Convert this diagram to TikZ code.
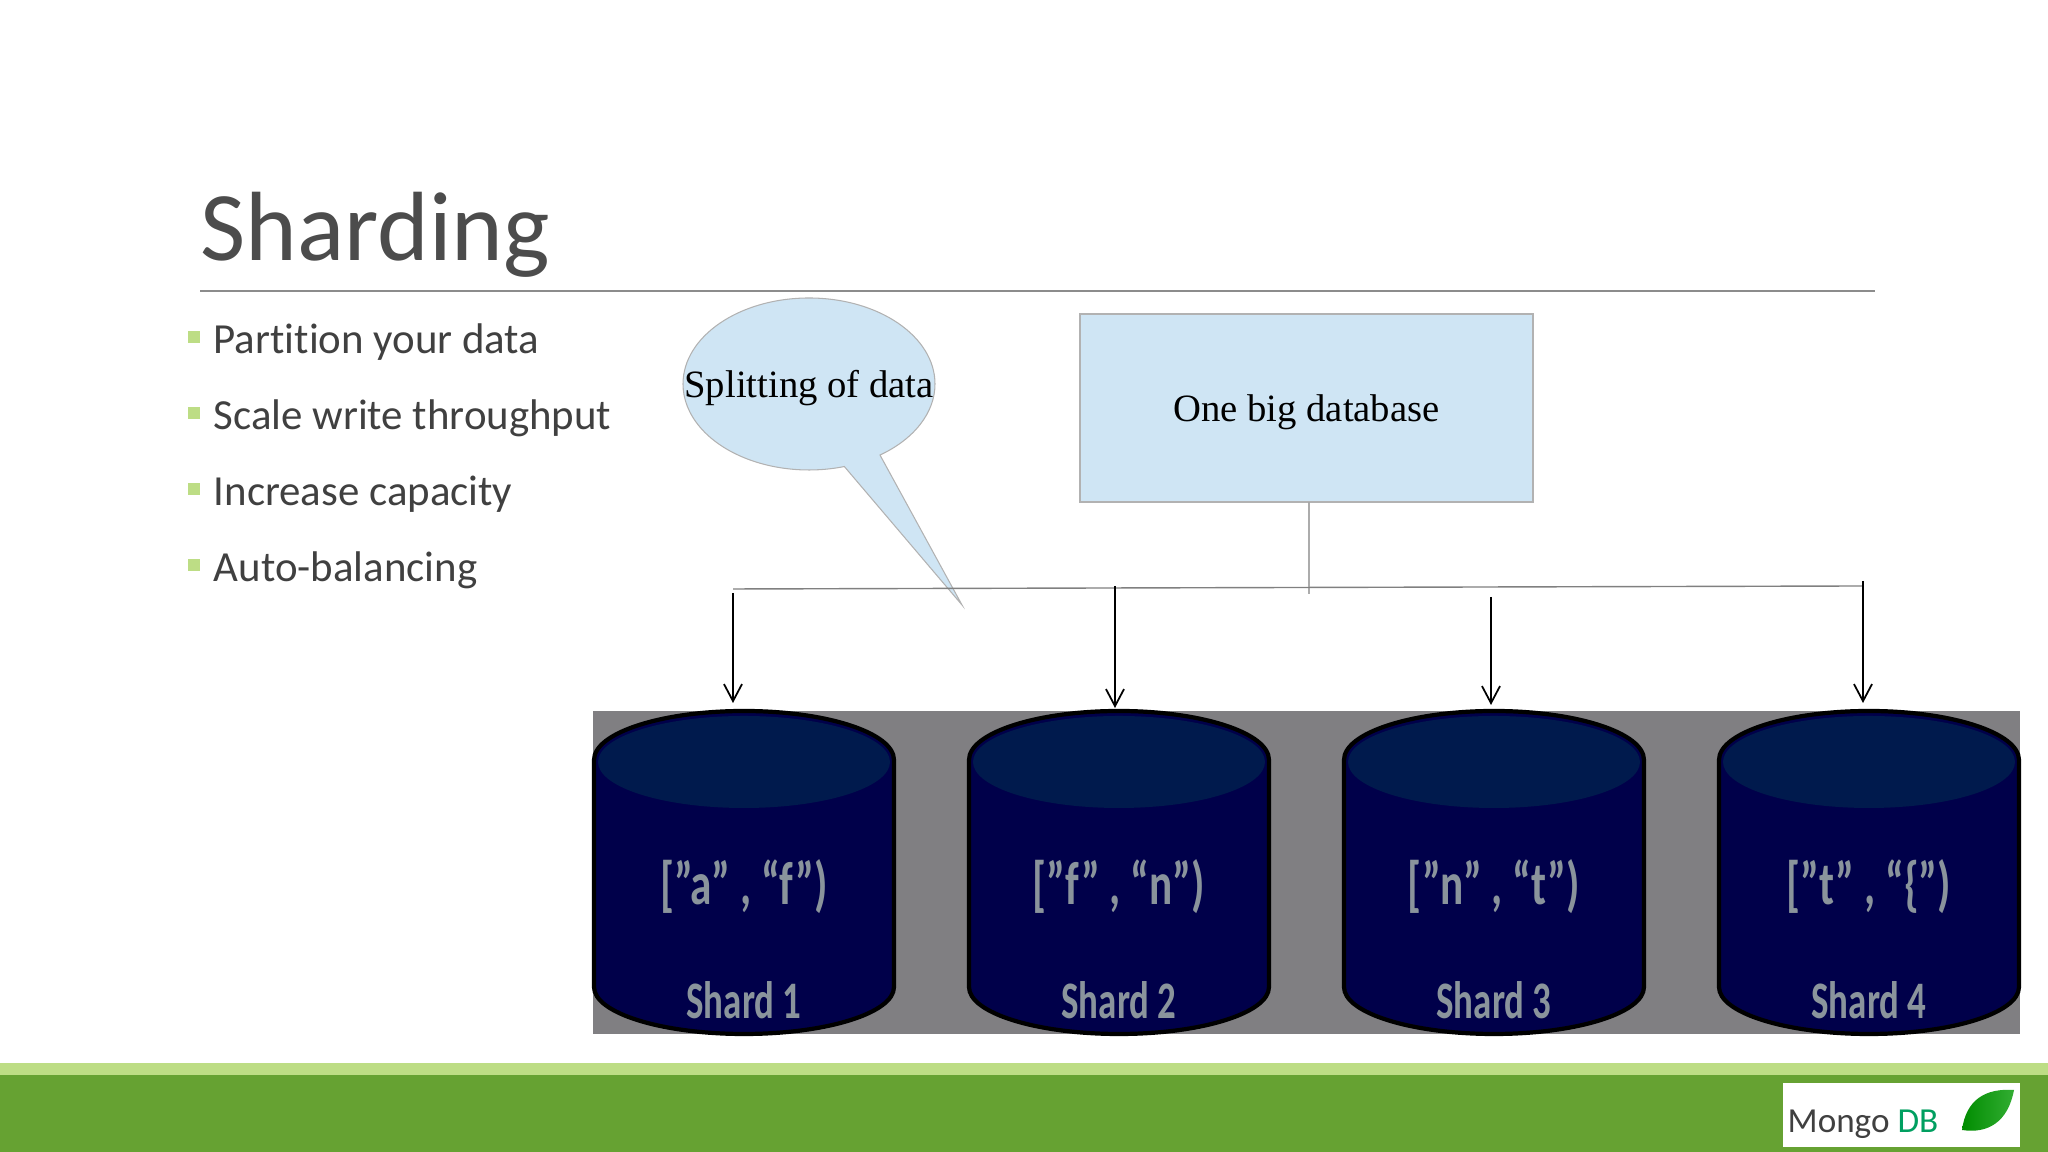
\documentclass[tikz,border=0pt]{standalone}
\usepackage{fontspec}
\setmainfont[Ligatures=NoCommon]{Carlito}
\newfontfamily\serifface{Liberation Serif}
\usetikzlibrary{shapes.callouts,arrows.meta}
\definecolor{slidegreen}{HTML}{66A232}
\definecolor{slidelime}{HTML}{BDDD85}
\definecolor{boxblue}{HTML}{CFE5F4}
\definecolor{shardbody}{HTML}{00004A}
\definecolor{shardtop}{HTML}{001A4D}
\definecolor{shardgray}{HTML}{807F82}
\definecolor{shardink}{HTML}{8A949C}
\begin{document}
\begin{tikzpicture}[
    >={Straight Barb[length=1.7mm,width=1.8mm]},
    bullettext/.style={anchor=base west, inner sep=0pt, text=black!75, font=\fontsize{12.2}{14}\selectfont},
    bulletmark/.style={fill=slidelime, inner sep=0pt, minimum size=0.12cm},
    blueshape/.style={draw=black!30, fill=boxblue, line width=0.3pt, text height=10pt, text depth=2.2pt, font=\serifface\fontsize{11}{13}\selectfont, text=black},
    busline/.style={draw=black!50, line width=0.4pt},
    shardtext/.style={text=shardink, inner sep=0pt, font=\bfseries\fontsize{15}{17}\selectfont}
]
    \useasboundingbox (0,0) rectangle (20.48,11.52);
    % title
    \node[anchor=base west, inner sep=0pt, text=black!70, font=\fontsize{28}{32}\selectfont] (title) at (2.0,8.91) {Sharding};
    \coordinate (ruleleft) at (2.0,8.61);
    \coordinate (ruleright) at (18.75,8.61);
    \draw[draw=black!45, line width=0.5pt] (ruleleft) -- (ruleright);
    % bullets
    \foreach \n/\y/\txt in {1/7.98/Partition your data, 2/7.22/Scale write throughput, 3/6.46/Increase capacity, 4/5.70/Auto-balancing} {
        \node[bulletmark] (mark\n) at (1.94,\y+0.17) {};
        \node[bullettext] (item\n) at (2.13,\y) {\txt};
    }
    % footer
    \fill[slidelime] (0,0.77) rectangle (20.48,0.89);
    \fill[slidegreen] (0,0) rectangle (20.48,0.77);
    \fill[white] (17.83,0.05) rectangle (20.20,0.69);
    \node[anchor=base west, inner sep=0pt, font=\fontsize{10}{12}\selectfont] (logo) at (17.87,0.19) {\textcolor{black!75}{Mongo} \textcolor{teal!75!green}{DB}};
    \shade[left color=green!55!black, right color=green!60!black!80!white] (19.62,0.22) .. controls (19.66,0.52) and (19.85,0.64) .. (20.14,0.62)
        .. controls (20.08,0.30) and (19.88,0.18) .. (19.62,0.22);
    % shards
    \fill[shardgray] (5.93,1.18) rectangle (20.20,4.41);
    \foreach \i/\xl/\txt in {1/5.94/{[”a” , “f”)}, 2/9.69/{[”f” , “n”)}, 3/13.44/{[”n” , “t”)}, 4/17.19/{[”t” , “\{”)}} {
        \draw[fill=shardbody, draw=black, line width=1.2pt]
            (\xl,3.92) arc[start angle=180, end angle=0, x radius=1.5, y radius=0.49]
            -- (\xl+3.0,1.65) arc[start angle=360, end angle=180, x radius=1.5, y radius=0.47] -- cycle;
        \fill[shardtop] (\xl+1.5,3.90) ellipse[x radius=1.46, y radius=0.46];
        \node[shardtext] (range\i) at (\xl+1.5,2.65) {\scalebox{0.82}[1.15]{\txt}};
        \node[shardtext] (label\i) at (\xl+1.5,1.52) {\scalebox{0.70}[1]{Shard \i}};
    }
    % boxes
    \node[blueshape, minimum width=4.53cm, minimum height=1.88cm, inner sep=0pt] (bigdb) at (13.065,7.44) {One big database};
    \node[blueshape, ellipse callout, inner sep=0pt, minimum width=2.52cm, minimum height=1.72cm,
        callout absolute pointer={(9.62,5.47)}, callout pointer arc=18] (split) at (8.09,7.68) {\makebox[0pt][c]{Splitting of data}};
    % connectors
    \coordinate (busleft) at (7.33,5.63);
    \coordinate (busright) at (18.63,5.66);
    \coordinate (busdrop) at (13.09,5.58);
    \draw[busline] (busleft) -- (busright);
    \draw[busline] ([xshift=0.025cm]bigdb.south) -- (busdrop);
    \coordinate (from1) at (7.33,5.59);
    \coordinate (from2) at (11.15,5.66);
    \coordinate (from3) at (14.91,5.55);
    \coordinate (from4) at (18.63,5.71);
    \foreach \i/\yend in {1/4.49, 2/4.44, 3/4.47, 4/4.49} {
        \coordinate (to\i) at (from\i |- 0,\yend);
        \draw[->, line width=0.5pt] (from\i) -- (to\i);
    }
\end{tikzpicture}
\end{document}
